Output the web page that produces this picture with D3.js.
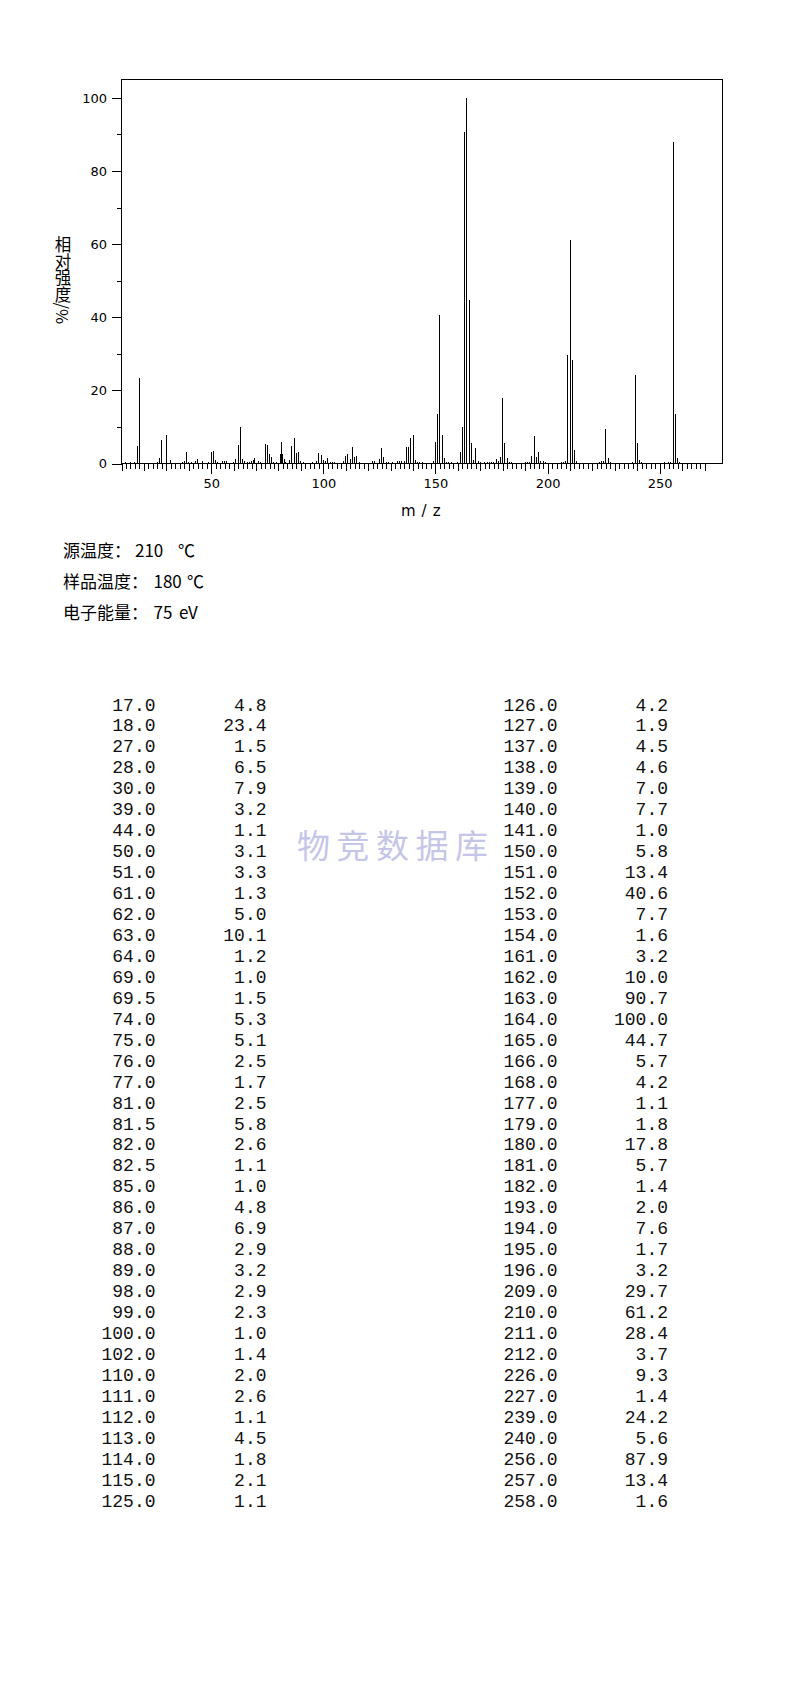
<!DOCTYPE html>
<html><head><meta charset="utf-8">
<script src="https://cdn.jsdelivr.net/npm/d3@7"></script>
<style>
html,body{margin:0;padding:0;background:#fff;}
svg{display:block;}
</style>
</head><body>
<svg id="chart" width="794" height="1701"></svg>
<script>
// ---- Data ----
const tableMz = [17,18,27,28,30,39,44,50,51,61,62,63,64,69,69.5,74,75,76,77,81,81.5,82,82.5,85,86,87,88,89,98,99,100,102,110,111,112,113,114,115,125,
  126,127,137,138,139,140,141,150,151,152,153,154,161,162,163,164,165,166,168,177,179,180,181,182,193,194,195,196,209,210,211,212,226,227,239,240,256,257,258];
const tableInt = [4.8,23.4,1.5,6.5,7.9,3.2,1.1,3.1,3.3,1.3,5.0,10.1,1.2,1.0,1.5,5.3,5.1,2.5,1.7,2.5,5.8,2.6,1.1,1.0,4.8,6.9,2.9,3.2,2.9,2.3,1.0,1.4,2.0,2.6,1.1,4.5,1.8,2.1,1.1,
  4.2,1.9,4.5,4.6,7.0,7.7,1.0,5.8,13.4,40.6,7.7,1.6,3.2,10.0,90.7,100.0,44.7,5.7,4.2,1.1,1.8,17.8,5.7,1.4,2.0,7.6,1.7,3.2,29.7,61.2,28.4,3.7,9.3,1.4,24.2,5.6,87.9,13.4,1.6];
// small peaks (<1 %) visible in the spectrum but not listed in the table (estimated)
const minorMz  = [12,14,16,26,32,37,38,40,41,43,46,49,52,53,55,56,57,60,65,66,67,68,71,72,78,79,83,90,91,95,97,101,103,104,105,109,116,122,123,128,129,131,133,134,135,136,142,143,144,149,155,156,157,160,167,169,170,172,173,174,175,176,178,183,184,190,191,192,197,198,199,206,207,208,213,223,224,225,228,238,241,242,252,254,255,259];
const minorInt = [0.4,0.4,0.4,0.4,0.9,0.5,0.8,0.4,0.5,0.6,0.8,0.4,0.9,0.4,0.6,0.6,0.6,0.5,0.8,0.4,0.5,0.6,0.6,0.5,0.4,0.4,0.4,0.6,0.4,0.4,0.6,0.8,0.5,0.4,0.4,0.6,0.5,0.8,0.6,0.5,0.4,0.4,0.6,0.6,0.6,0.6,0.5,0.4,0.4,0.6,0.5,0.4,0.4,0.5,0.9,0.6,0.4,0.4,0.4,0.4,0.4,0.4,0.8,0.5,0.4,0.4,0.4,0.4,0.6,0.6,0.4,0.4,0.4,0.6,0.6,0.4,0.6,0.6,0.4,0.4,0.9,0.4,0.4,0.4,0.4,0.4];
const yMajorTicks = [0,20,40,60,80,100];
const yMinorTicks = [10,30,50,70,90];
const xLabelTicks = [50,100,150,200,250];
const yAxisTitle = "相对强度/%";
const xAxisTitle = "m/z";
const infoLabels = ["源温度：","样品温度：","电子能量："];
const infoValues = ["210","180","75"];
const infoUnits  = ["℃","℃","eV"];
const watermark = "物竞数据库";

// ---- Layout ----
const svg = d3.select("#chart");
const L = 121.5, R = 722.5, T = 79.5, B = 463.5;
const x = d3.scaleLinear().domain([10, 278]).range([L, R]);
const y = d3.scaleLinear().domain([0, 105]).range([B, T]);
const axisFont = "'DejaVu Sans', Verdana, sans-serif";
const cjkFont = "'Noto Sans CJK SC', sans-serif";
const monoFont = "'Liberation Mono', 'Courier New', monospace";

// peaks
const peaks = tableMz.map((m,i)=>({mz:m, v:tableInt[i]}))
  .concat(minorMz.map((m,i)=>({mz:m, v:minorInt[i]})));
svg.append("g").attr("shape-rendering","crispEdges")
  .selectAll("line").data(peaks).join("line")
  .attr("x1", d=>x(d.mz)).attr("x2", d=>x(d.mz))
  .attr("y1", y(0)).attr("y2", d=>y(d.v))
  .attr("stroke","#000").attr("stroke-width",1);

// frame
svg.append("rect").attr("x",L).attr("y",T).attr("width",R-L).attr("height",B-T)
  .attr("fill","none").attr("stroke","#000").attr("stroke-width",1).attr("shape-rendering","crispEdges");

// y axis
const gy = svg.append("g").attr("transform",`translate(${L},0)`);
gy.call(d3.axisLeft(y).tickValues(yMajorTicks).tickSize(10).tickPadding(4.5));
gy.append("g").call(d3.axisLeft(y).tickValues(yMinorTicks).tickSize(5).tickFormat(""));
gy.selectAll(".domain").remove();
gy.selectAll("line").attr("shape-rendering","crispEdges").attr("stroke","#000");
gy.selectAll("text").attr("font-family",axisFont).attr("font-size",13).attr("fill","#000").attr("dy","0.34em");

// x axis
const xMinor = d3.range(10, 271, 2);
const xMid = d3.range(10, 271, 10).filter(v=>v%50!==0);
const gx = svg.append("g").attr("transform",`translate(0,${B})`);
gx.append("g").call(d3.axisBottom(x).tickValues(xMinor).tickSize(5).tickFormat(""));
gx.append("g").call(d3.axisBottom(x).tickValues(xMid).tickSize(7.5).tickFormat(""));
gx.append("g").call(d3.axisBottom(x).tickValues(xLabelTicks).tickSize(10).tickPadding(7));
gx.selectAll(".domain").remove();
gx.selectAll("line").attr("shape-rendering","crispEdges").attr("stroke","#000");
gx.selectAll("text").attr("font-family",axisFont).attr("font-size",13).attr("fill","#000").attr("dy","0.6em");

// axis titles
svg.append("text").attr("x",63).attr("y",236.5)
  .attr("writing-mode","vertical-rl").style("writing-mode","vertical-rl")
  .style("text-orientation","mixed")
  .attr("font-family",cjkFont).attr("font-size",16.5).attr("fill","#000")
  .text(yAxisTitle);
svg.append("text").attr("x",401).attr("y",516).attr("font-family",axisFont).attr("font-size",15)
  .attr("letter-spacing",6).attr("fill","#000").text(xAxisTitle);

// info lines
const valX = [135,153.5,153.5], unitX = [178,187,179];
infoLabels.forEach((lab,i)=>{
  const by = 557 + i*31;
  const t = svg.append("text").attr("y",by).attr("font-family",cjkFont).attr("font-size",17).attr("fill","#000");
  t.append("tspan").attr("x",63).text(lab);
  t.append("tspan").attr("x",valX[i]).text(infoValues[i]);
  t.append("tspan").attr("x",unitX[i]).text(infoUnits[i]);
});

// table
const rows = tableMz.map((m,i)=>({mz:m, v:tableInt[i], col: i<39?0:1, row: i<39?i:i-39}));
const colMzX = [155.5, 557.5], colVX = [266.5, 668];
const tg = svg.append("g").attr("font-family",monoFont).attr("font-size",18).attr("fill","#111");
tg.selectAll("text.mz").data(rows).join("text").attr("class","mz")
  .attr("x",d=>colMzX[d.col]).attr("y",d=>710.5+d.row*20.95).attr("text-anchor","end")
  .text(d=>d.mz.toFixed(1));
tg.selectAll("text.v").data(rows).join("text").attr("class","v")
  .attr("x",d=>colVX[d.col]).attr("y",d=>710.5+d.row*20.95).attr("text-anchor","end")
  .text(d=>d.v.toFixed(1));

// watermark
svg.append("text").attr("x",297).attr("y",858).attr("font-family",cjkFont).attr("font-size",33)
  .attr("letter-spacing",6.5).attr("fill","#c5c5e8").text(watermark);
</script>
</body></html>
